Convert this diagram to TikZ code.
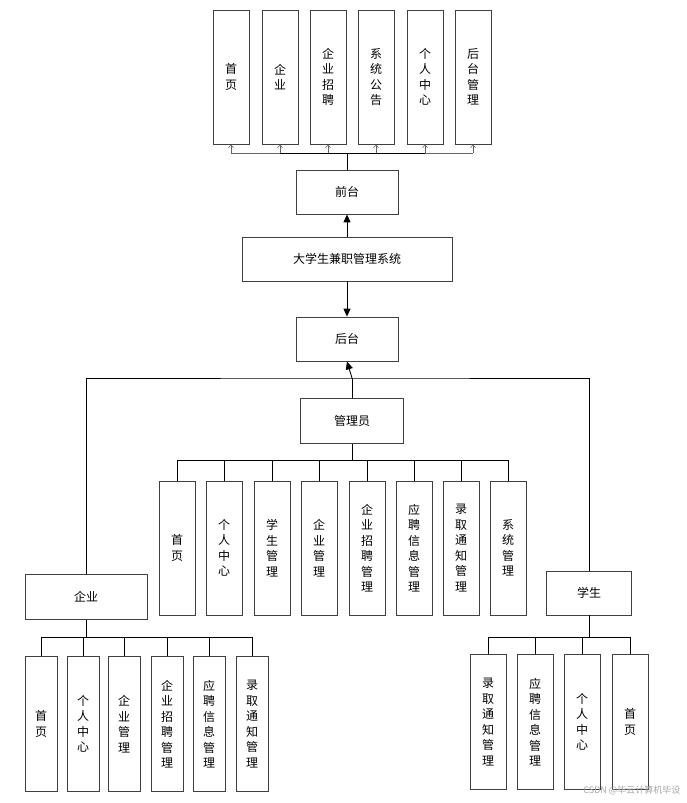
\documentclass[tikz,border=0pt]{standalone}
\usepackage{fontspec}
\setmainfont{Noto Sans CJK SC}
\usetikzlibrary{arrows.meta}
\begin{document}
\begin{tikzpicture}[x=1pt,y=-1pt,
  box/.style={draw=black!75,line width=0.8pt,fill=white,inner sep=0pt,font=\fontsize{12}{13}\selectfont},
  vt/.style={box,align=center,font=\fontsize{12}{15.5}\selectfont},
  ln/.style={draw=black,line width=0.7pt},
  big/.style={-{Triangle[length=8pt,width=7pt]},line width=0.9pt},
  sm/.style={-{Straight Barb[length=3pt,width=5pt]},draw=black!60,line width=0.6pt}]
\useasboundingbox (0,0) rectangle (686,803);
% top level
\foreach \n/\x/\t in {t1/231/首\\页, t2/280/企\\业, t3/328/企\\业\\招\\聘, t4/376/系\\统\\公\\告, t5/425/个\\人\\中\\心, t6/473/后\\台\\管\\理}
  \node[vt,minimum width=36pt,minimum height=134pt] (\n) at (\x,77) {\t};
\node[box,minimum width=102pt,minimum height=44pt] (qt) at (347,192) {前台};
\node[box,minimum width=210pt,minimum height=44pt] (sys) at (347,259) {大学生兼职管理系统};
\node[box,minimum width=102pt,minimum height=44pt] (ht) at (347,339) {后台};
\coordinate (tb) at (347,153);
\draw[ln] (qt.north) -- (tb);
\foreach \n in {t1,t2,t3,t4,t5,t6}
  \draw[sm] (tb -| \n.south) ++(0,0) coordinate (a) (a) -- (\n.south);
\draw[draw=black!60,line width=0.6pt] (tb -| t1.south) -- (tb -| t6.south);
\draw[ln] (tb -| t2.south) -- (tb -| t5.south);
\draw[big] (sys.north) -- (qt.south);
\draw[big] (sys.south) -- (ht.north);
% admin
\node[box,minimum width=103pt,minimum height=45pt] (gly) at (352,421) {管理员};
\node[box,minimum width=122pt,minimum height=45pt] (qy) at (86,597) {企业};
\node[box,minimum width=85pt,minimum height=44pt] (xs) at (589,593) {学生};
\coordinate (hb) at (347,378);
\draw[big] (hb -| gly.north) -- (ht.south);
\draw[ln] (gly.north) -- (hb -| gly.north);
\draw[ln] (qy.north) |- (hb -| gly.north) -| (xs.north);
% admin children
\foreach \n/\x/\t in {g1/177/首\\页, g2/224/个\\人\\中\\心, g3/272/学\\生\\管\\理, g4/319/企\\业\\管\\理, g5/367/企\\业\\招\\聘\\管\\理, g6/414/应\\聘\\信\\息\\管\\理, g7/461/录\\取\\通\\知\\管\\理, g8/508/系\\统\\管\\理}
  \node[vt,minimum width=36pt,minimum height=134pt] (\n) at (\x,548) {\t};
\coordinate (gb) at (352,460);
\draw[ln] (gly.south) -- (gb);
\draw[ln] (gb -| g1.north) -- (gb -| g8.north);
\foreach \n in {g1,g2,g3,g4,g5,g6,g7,g8} \draw[ln] (gb -| \n.north) -- (\n.north);
% company children
\foreach \n/\x/\t in {q1/41/首\\页, q2/83/个\\人\\中\\心, q3/124/企\\业\\管\\理, q4/167/企\\业\\招\\聘\\管\\理, q5/209/应\\聘\\信\\息\\管\\理, q6/252/录\\取\\通\\知\\管\\理}
  \node[vt,minimum width=32pt,minimum height=135pt] (\n) at (\x,724) {\t};
\coordinate (qb) at (86,637);
\draw[ln] (qy.south) -- (qb);
\draw[ln] (qb -| q1.north) -- (qb -| q6.north);
\foreach \n in {q1,q2,q3,q4,q5,q6} \draw[ln] (qb -| \n.north) -- (\n.north);
% student children
\foreach \n/\x/\t in {s1/488/录\\取\\通\\知\\管\\理, s2/535/应\\聘\\信\\息\\管\\理, s3/582/个\\人\\中\\心, s4/630/首\\页}
  \node[vt,minimum width=36pt,minimum height=135pt] (\n) at (\x,722) {\t};
\coordinate (sb) at (589,637);
\draw[ln] (xs.south) -- (sb);
\draw[ln] (sb -| s1.north) -- (sb -| s4.north);
\foreach \n in {s1,s2,s3,s4} \draw[ln] (sb -| \n.north) -- (\n.north);
\node[text=black!35,font=\fontsize{9}{10}\selectfont,anchor=east] (wm) at (684,790) {CSDN @毕云计算机毕设};
\end{tikzpicture}
\end{document}
